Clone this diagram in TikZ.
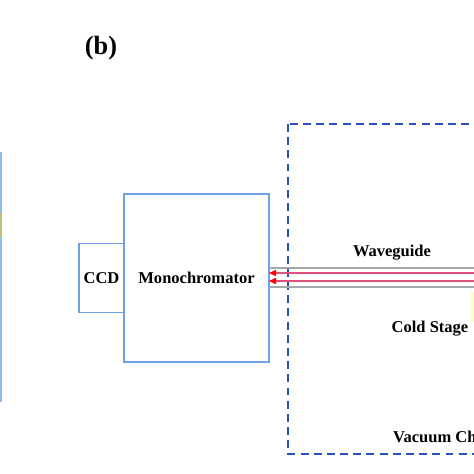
\documentclass[tikz,border=0pt]{standalone}
\usepackage{fontspec}
\setmainfont{Liberation Serif}
\usetikzlibrary{positioning,arrows.meta}

\definecolor{boxblue}{HTML}{6FA0E6}
\definecolor{chamberblue}{HTML}{2B4FC0}
\definecolor{guidegray}{HTML}{A2A9AA}
\definecolor{lightpink}{HTML}{E0507A}
\definecolor{edgeblue}{HTML}{8FBFE8}
\definecolor{edgegreen}{HTML}{B9C47A}

\begin{document}
\begin{tikzpicture}[
	%	style def
    x=0.02cm, y=-0.02cm,
    box/.style={draw=boxblue, line width=1pt, inner sep=0pt, outer sep=0pt},
    label text/.style={text=black, font=\fontsize{9.4}{11}\selectfont\bfseries},
    chamber/.style={draw=chamberblue, line width=1.1pt, dash pattern=on 4.5pt off 3pt},
    guide line/.style={guidegray, line width=1pt},
    light line/.style={lightpink, line width=0.6pt}
    ]
    \useasboundingbox (0,0) rectangle (474,474);
    \clip (0,0) rectangle (474,474);

    % part label
    \node[text=black, font=\fontsize{15}{18}\selectfont\bfseries] (lab) at (101,48) {(b)};

    % edge of the neighbouring panel
    \draw[edgeblue, line width=1.2pt] (1,152) coordinate (e1) -- (1,402) coordinate (e2);
    \draw[edgegreen, line width=1.2pt] (1,213) -- (1,237);

    % spectrometer
    \node[box, label text, minimum width=2.9cm, minimum height=3.36cm] (mono) at (196.5,278) {Monochromator};
    \node[box, label text, minimum width=0.9cm, minimum height=1.38cm, left=0pt of mono] (ccd) {CCD};

    % vacuum chamber
    \draw[chamber] (288,124) rectangle (490,454);
    \node[label text, anchor=west] (vac) at (387,437) {Vacuum Ch};

    % cold stage
    \fill[yellow!25] (471,292) rectangle (476,322);
    \node[label text] (cold) at (430,329) {Cold Stage};

    % waveguide
    \coordinate (w1) at (480,268);
    \coordinate (w2) at (480,287);
    \draw[guide line] (mono.east |- w1) -- (w1);
    \draw[guide line] (mono.east |- w2) -- (w2);
    \draw[light line, -{Triangle[length=4pt,width=3.5pt,red]}] (480,273) coordinate (r1) -- (mono.east |- r1);
    \draw[light line, -{Triangle[length=4pt,width=3.5pt,red]}] (480,281) coordinate (r2) -- (mono.east |- r2);
    \node[label text] (wg) at (392,253) {Waveguide};
\end{tikzpicture}
\end{document}
